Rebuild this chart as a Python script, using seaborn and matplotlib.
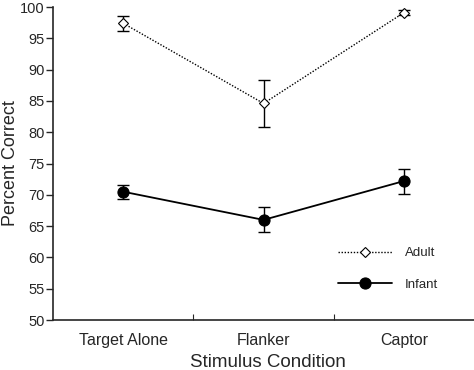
import matplotlib
matplotlib.use('Agg')
import matplotlib.pyplot as plt
import seaborn as sns
import pandas as pd

conditions = ['Target Alone', 'Flanker', 'Captor']
adult_mean = [97.4, 84.6, 99.1]
adult_err = [1.2, 3.8, 0.4]
infant_mean = [70.5, 66.0, 72.2]
infant_err = [1.1, 2.0, 2.0]

sns.set_style('ticks')
plt.rcParams['font.family'] = ['Liberation Sans', 'DejaVu Sans']

df = pd.DataFrame({
    'x': list(range(3)) * 2,
    'Percent Correct': adult_mean + infant_mean,
    'Group': ['Adult'] * 3 + ['Infant'] * 3,
})

fig = plt.figure(figsize=(4.74, 3.70), dpi=100)
ax = fig.add_axes([0.112, 0.135, 0.888, 0.846])

styles = {
    'Adult': dict(ls=(0, (1, 1.2)), lw=1.0, marker='D', ms=5, mfc='white', mec='black', mew=0.8),
    'Infant': dict(ls='-', lw=1.3, marker='o', ms=8, mfc='black', mec='black', mew=0.8),
}
errs = {'Adult': adult_err, 'Infant': infant_err}

for group, sub in df.groupby('Group'):
    st = styles[group]
    ax.errorbar(sub['x'], sub['Percent Correct'], yerr=errs[group], fmt='none',
                ecolor='black', elinewidth=1.0, capsize=4.3, capthick=1.0, zorder=2)
    sns.lineplot(data=sub, x='x', y='Percent Correct', ax=ax, color='black',
                 linestyle=st['ls'], linewidth=st['lw'], marker=st['marker'],
                 markersize=st['ms'], markerfacecolor=st['mfc'],
                 markeredgecolor=st['mec'], markeredgewidth=st['mew'],
                 label=group, zorder=3)

ax.set_xlim(-0.5, 2.5)
ax.set_ylim(50, 100)
ax.set_yticks(range(50, 101, 5))
ax.set_xticks(range(3))
ax.set_xticks([0.5, 1.5], minor=True)
ax.set_xticklabels(conditions, fontsize=11.5)
ax.tick_params(axis='y', labelsize=10.5, length=5, width=1, pad=1)
ax.tick_params(axis='x', which='major', length=0, pad=9)
ax.tick_params(axis='x', which='minor', direction='in', length=4, width=0.8)
ax.set_xlabel('Stimulus Condition', fontsize=13.5)
ax.xaxis.set_label_coords(0.51, -0.11, transform=ax.transAxes)
ax.xaxis.label.set_va('top')
ax.set_ylabel('Percent Correct', fontsize=13)
ax.yaxis.set_label_coords(-0.102, 0.5, transform=ax.transAxes)
ax.yaxis.label.set_va('center')
for s in ['left', 'bottom']:
    ax.spines[s].set_linewidth(1.2)
sns.despine(ax=ax)

ax.legend(loc='upper left', bbox_to_anchor=(0.648, 0.271), frameon=False,
          fontsize=9.5, handlelength=4.1, labelspacing=1.45, handletextpad=1.0)

fig.savefig('out.png', dpi=100)
